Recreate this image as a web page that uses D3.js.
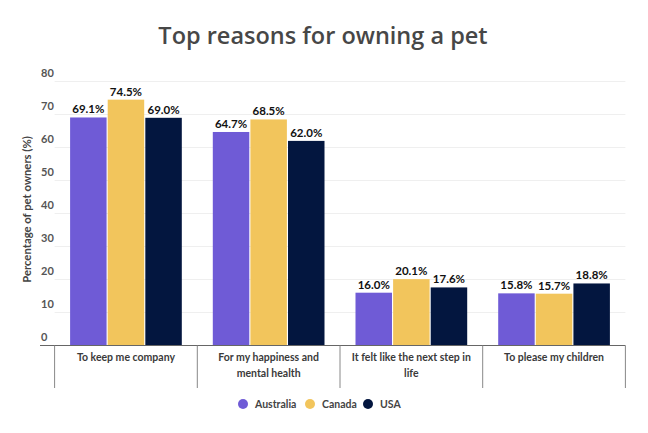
<!DOCTYPE html>
<html>
<head>
<meta charset="utf-8">
<script src="https://cdn.jsdelivr.net/npm/d3@7"></script>
<style>
  body { margin: 0; background: #fff; }
  svg { display: block; }
</style>
</head>
<body>
<svg width="648" height="433"></svg>
<script>
const categories = [
  ["To keep me company"],
  ["For my happiness and", "mental health"],
  ["It felt like the next step in", "life"],
  ["To please my children"]
];
const seriesNames = ["Australia", "Canada", "USA"];
const australia = [69.1, 64.7, 16.0, 15.8];
const canada = [74.5, 68.5, 20.1, 15.7];
const usa = [69.0, 62.0, 17.6, 18.8];
const yTicks = [0, 10, 20, 30, 40, 50, 60, 70, 80];

const colors = ["#6f5bd6", "#f2c55c", "#03163f"];
const series = [australia, canada, usa];

const svg = d3.select("svg");
const plotLeft = 54.6, plotRight = 625.4, plotTop = 81.5, plotBottom = 345.5;

const x = d3.scaleBand().domain(d3.range(categories.length)).range([plotLeft, plotRight]);
const inner = d3.scaleBand().domain(d3.range(series.length))
  .range([15.5, x.bandwidth() - 15.5]).paddingInner(0.03);
const y = d3.scaleLinear().domain([0, 80]).range([plotBottom, plotTop]);

// title
svg.append("text")
  .attr("x", 323).attr("y", 44)
  .attr("text-anchor", "middle")
  .style("font-family", "Open Sans")
  .style("font-weight", 600)
  .style("font-size", "23.5px")
  .style("fill", "#474747")
  .text("Top reasons for owning a pet");

// gridlines
svg.append("g").selectAll("line")
  .data(yTicks.slice(1))
  .join("line")
  .attr("x1", plotLeft).attr("x2", plotRight)
  .attr("y1", d => y(d)).attr("y2", d => y(d))
  .attr("stroke", "#efefef").attr("stroke-width", 1);

// y tick labels
svg.append("g").selectAll("text")
  .data(yTicks)
  .join("text")
  .attr("x", 41).attr("y", d => y(d) - 5)
  .style("font-family", "Lato")
  .style("font-weight", 700)
  .style("font-size", "11px")
  .style("fill", "#555")
  .text(d => d);

// y title
svg.append("text")
  .attr("transform", "translate(31," + ((plotTop + plotBottom) / 2 - 4) + ") rotate(-90)")
  .attr("text-anchor", "middle")
  .style("font-family", "Lato")
  .style("font-weight", 700)
  .style("font-size", "11.3px")
  .style("fill", "#444")
  .text("Percentage of pet owners (%)");

// bars
const groups = svg.append("g").selectAll("g")
  .data(categories.map((c, i) => i))
  .join("g")
  .attr("transform", i => "translate(" + x(i) + ",0)");

groups.selectAll("rect")
  .data(i => series.map((s, j) => ({ j: j, v: s[i] })))
  .join("rect")
  .attr("x", d => inner(d.j))
  .attr("width", inner.bandwidth())
  .attr("y", d => y(d.v))
  .attr("height", d => plotBottom - y(d.v))
  .attr("fill", d => colors[d.j]);

groups.selectAll("text.val")
  .data(i => series.map((s, j) => ({ j: j, v: s[i] })))
  .join("text")
  .attr("class", "val")
  .attr("x", d => inner(d.j) + inner.bandwidth() / 2)
  .attr("y", d => y(d.v) - 4)
  .attr("text-anchor", "middle")
  .style("font-family", "Lato")
  .style("font-weight", 700)
  .style("font-size", "11.5px")
  .style("fill", "#111")
  .text(d => d.v.toFixed(1) + "%");

// baseline and category separators
svg.append("line")
  .attr("x1", 40).attr("x2", plotRight)
  .attr("y1", plotBottom).attr("y2", plotBottom)
  .attr("stroke", "#666").attr("stroke-width", 1.2);

svg.append("g").selectAll("line")
  .data(d3.range(categories.length + 1))
  .join("line")
  .attr("x1", i => plotLeft + i * x.step()).attr("x2", i => plotLeft + i * x.step())
  .attr("y1", plotBottom).attr("y2", 388)
  .attr("stroke", "#888").attr("stroke-width", 1);

// category labels
const catText = svg.append("g").selectAll("text")
  .data(categories)
  .join("text")
  .attr("x", (d, i) => x(i) + x.bandwidth() / 2)
  .attr("y", 361)
  .attr("text-anchor", "middle")
  .style("font-family", "Lato")
  .style("font-weight", 700)
  .style("font-size", "10.5px")
  .style("fill", "#3a3a3a");
catText.selectAll("tspan")
  .data(d => d)
  .join("tspan")
  .attr("x", function () { return d3.select(this.parentNode).attr("x"); })
  .attr("dy", (d, k) => k === 0 ? 0 : 16)
  .text(d => d);

// legend
const legendX = [243, 310, 368];
const legend = svg.append("g").selectAll("g")
  .data(seriesNames)
  .join("g")
  .attr("transform", (d, i) => "translate(" + legendX[i] + ",404)");
legend.append("circle").attr("r", 5).attr("fill", (d, i) => colors[i]);
legend.append("text")
  .attr("x", 12).attr("y", 4)
  .style("font-family", "Lato")
  .style("font-weight", 700)
  .style("font-size", "10.5px")
  .style("fill", "#444")
  .text(d => d);
</script>
</body>
</html>
